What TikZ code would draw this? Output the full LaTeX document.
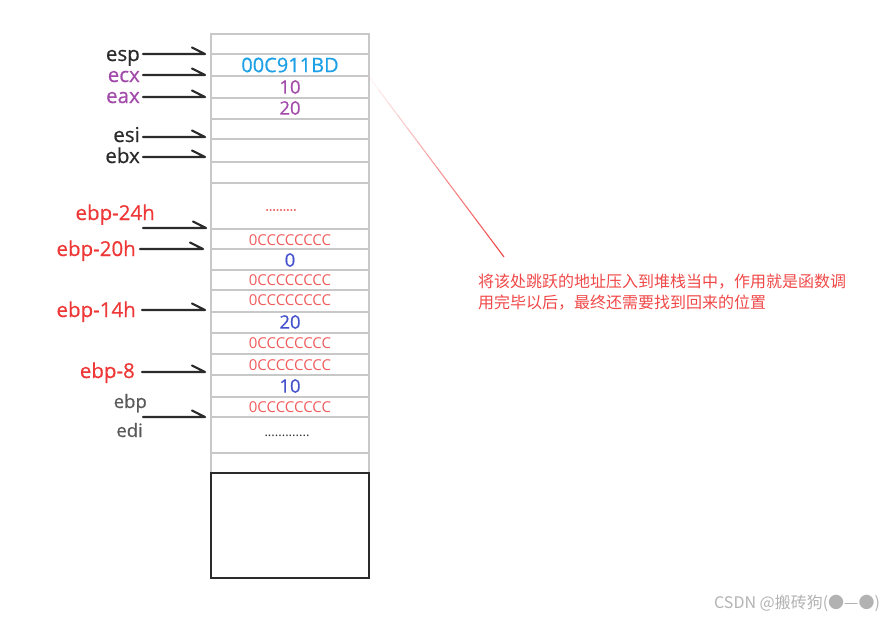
\documentclass[tikz,border=0pt]{standalone}
\usepackage{fontspec}
\setmainfont{Open Sans}
\newfontfamily\regfont[FakeBold=0.6]{Open Sans}
\newfontfamily\cjkfont{Noto Sans CJK SC}
\usetikzlibrary{calc}
\definecolor{regblack}{HTML}{2B2B2B}
\definecolor{reggray}{HTML}{5A5A5A}
\definecolor{regpurple}{HTML}{A24BAA}
\definecolor{regred}{HTML}{EE3838}
\definecolor{valcyan}{HTML}{1EA0E6}
\definecolor{valblue}{HTML}{4453CC}
\definecolor{valred}{HTML}{F05C5C}
\definecolor{notered}{HTML}{F04848}
\definecolor{gridgray}{HTML}{C8C8C8}
\tikzset{
  gridline/.style={draw=gridgray,line width=2.2pt},
  reglabel/.style={inner sep=0pt,anchor=base east,font=\regfont\fontsize{20.5}{20.5}\selectfont},
  regarrow/.style={line width=2.2pt,draw=regblack,line cap=round,line join=round},
  cellval/.style={inner sep=0pt,font=\regfont\fontsize{18.5}{18.5}\selectfont},
  cellfill/.style={inner sep=0pt,text=valred,font=\fontsize{15}{15}\selectfont},
}
\begin{document}
\begin{tikzpicture}[x=1pt,y=-1pt]
  \useasboundingbox (0,0) rectangle (892,619);
  \def\stackleft{211}
  \def\stackright{369}
  \def\stackmid{290}

  % stack frame
  \foreach \line in {34,54,76,98,119,139,162,183,229,249,270,290,312,333,354,375,397,417,453}
    \draw[gridline] (\stackleft,\line) -- (\stackright,\line);
  \draw[gridline] (\stackleft,33) -- (\stackleft,473);
  \draw[gridline] (\stackright,33) -- (\stackright,473);
  \draw[line width=2pt,draw=regblack] (\stackleft,473) rectangle (\stackright,578);

  % stack contents
  \node[cellval,text=valcyan,font=\regfont\fontsize{20}{20}\selectfont] (retaddr) at (\stackmid,65) {00C911BD};
  \node[cellval,text=regpurple] (ecxval) at (\stackmid,87) {10};
  \node[cellval,text=regpurple] (eaxval) at (\stackmid,108) {20};
  \node[cellfill,font=\regfont\fontsize{13}{13}\selectfont] (gapdots) at (281,210) {.........};
  \foreach \ypos/\val [count=\i] in {240/0CCCCCCCC,280/0CCCCCCCC,300/0CCCCCCCC,343/0CCCCCCCC,365/0CCCCCCCC,407/0CCCCCCCC}
    \node[cellfill] (fill\i) at (\stackmid,\ypos) {\val};
  \foreach \ypos/\val [count=\i] in {260/0,322/20,386/10}
    \node[cellval,text=valblue] (local\i) at (\stackmid,\ypos) {\val};
  \node[cellfill,text=regblack,font=\fontsize{13}{13}\selectfont] (enddots) at (287,436) {.............};

  % registers
  \node[reglabel,text=regblack] (esp) at (140,61) {esp};
  \node[reglabel,text=regpurple] (ecx) at (140,82) {ecx};
  \node[reglabel,text=regpurple] (eax) at (140,103) {eax};
  \node[reglabel,text=regblack] (esi) at (140,142) {esi};
  \node[reglabel,text=regblack] (ebx) at (140,163) {ebx};
  \node[reglabel,text=regred] (ebp24) at (155,220) {ebp-24h};
  \node[reglabel,text=regred] (ebp20) at (136,256) {ebp-20h};
  \node[reglabel,text=regred] (ebp14) at (136,317) {ebp-14h};
  \node[reglabel,text=regred] (ebp8) at (135,378) {ebp-8};
  \node[reglabel,text=reggray,font=\regfont\fontsize{18.5}{18.5}\selectfont] (ebp) at (147,408) {ebp};
  \node[reglabel,text=reggray,font=\regfont\fontsize{18.5}{18.5}\selectfont] (edi) at (143,437) {edi};

  \foreach \name/\ypos/\xa/\xb in {esp/54/143/205,ecx/75/143/205,eax/97/143/205,esi/137/143/205,ebx/157/143/205,
      ebp24/228/143/206,ebp20/249/140/203,ebp14/310/142/205,ebp8/372/142/205,ebp/417/143/205} {
    \coordinate (\name-tail) at (\xa,\ypos);
    \coordinate (\name-head) at (\xb,\ypos);
    \draw[regarrow] (\name-tail) -- (\name-head) -- ++(-13,-6.5);
  }

  % note on the return address
  \node[inner sep=0pt,anchor=north west,align=left,text=notered,font=\cjkfont\fontsize{16}{21}\selectfont] (note) at (478,274)
    {将该处跳跃的地址压入到堆栈当中，作用就是函数调\\用完毕以后，最终还需要找到回来的位置};
  \coordinate (ret) at (\stackright,77);
  \coordinate (notetip) at (504,257);
  \foreach \k in {1,...,14}
    \draw[notered,line width=1.1pt,opacity=\k/14] ($(ret)!{(\k-1)/14}!(notetip)$) -- ($(ret)!{\k/14}!(notetip)$);

  \node[inner sep=0pt,anchor=west,text=black!30,font=\cjkfont\fontsize{16}{16}\selectfont] (mark) at (714,603) {CSDN @搬砖狗(●—●)};
\end{tikzpicture}
\end{document}
